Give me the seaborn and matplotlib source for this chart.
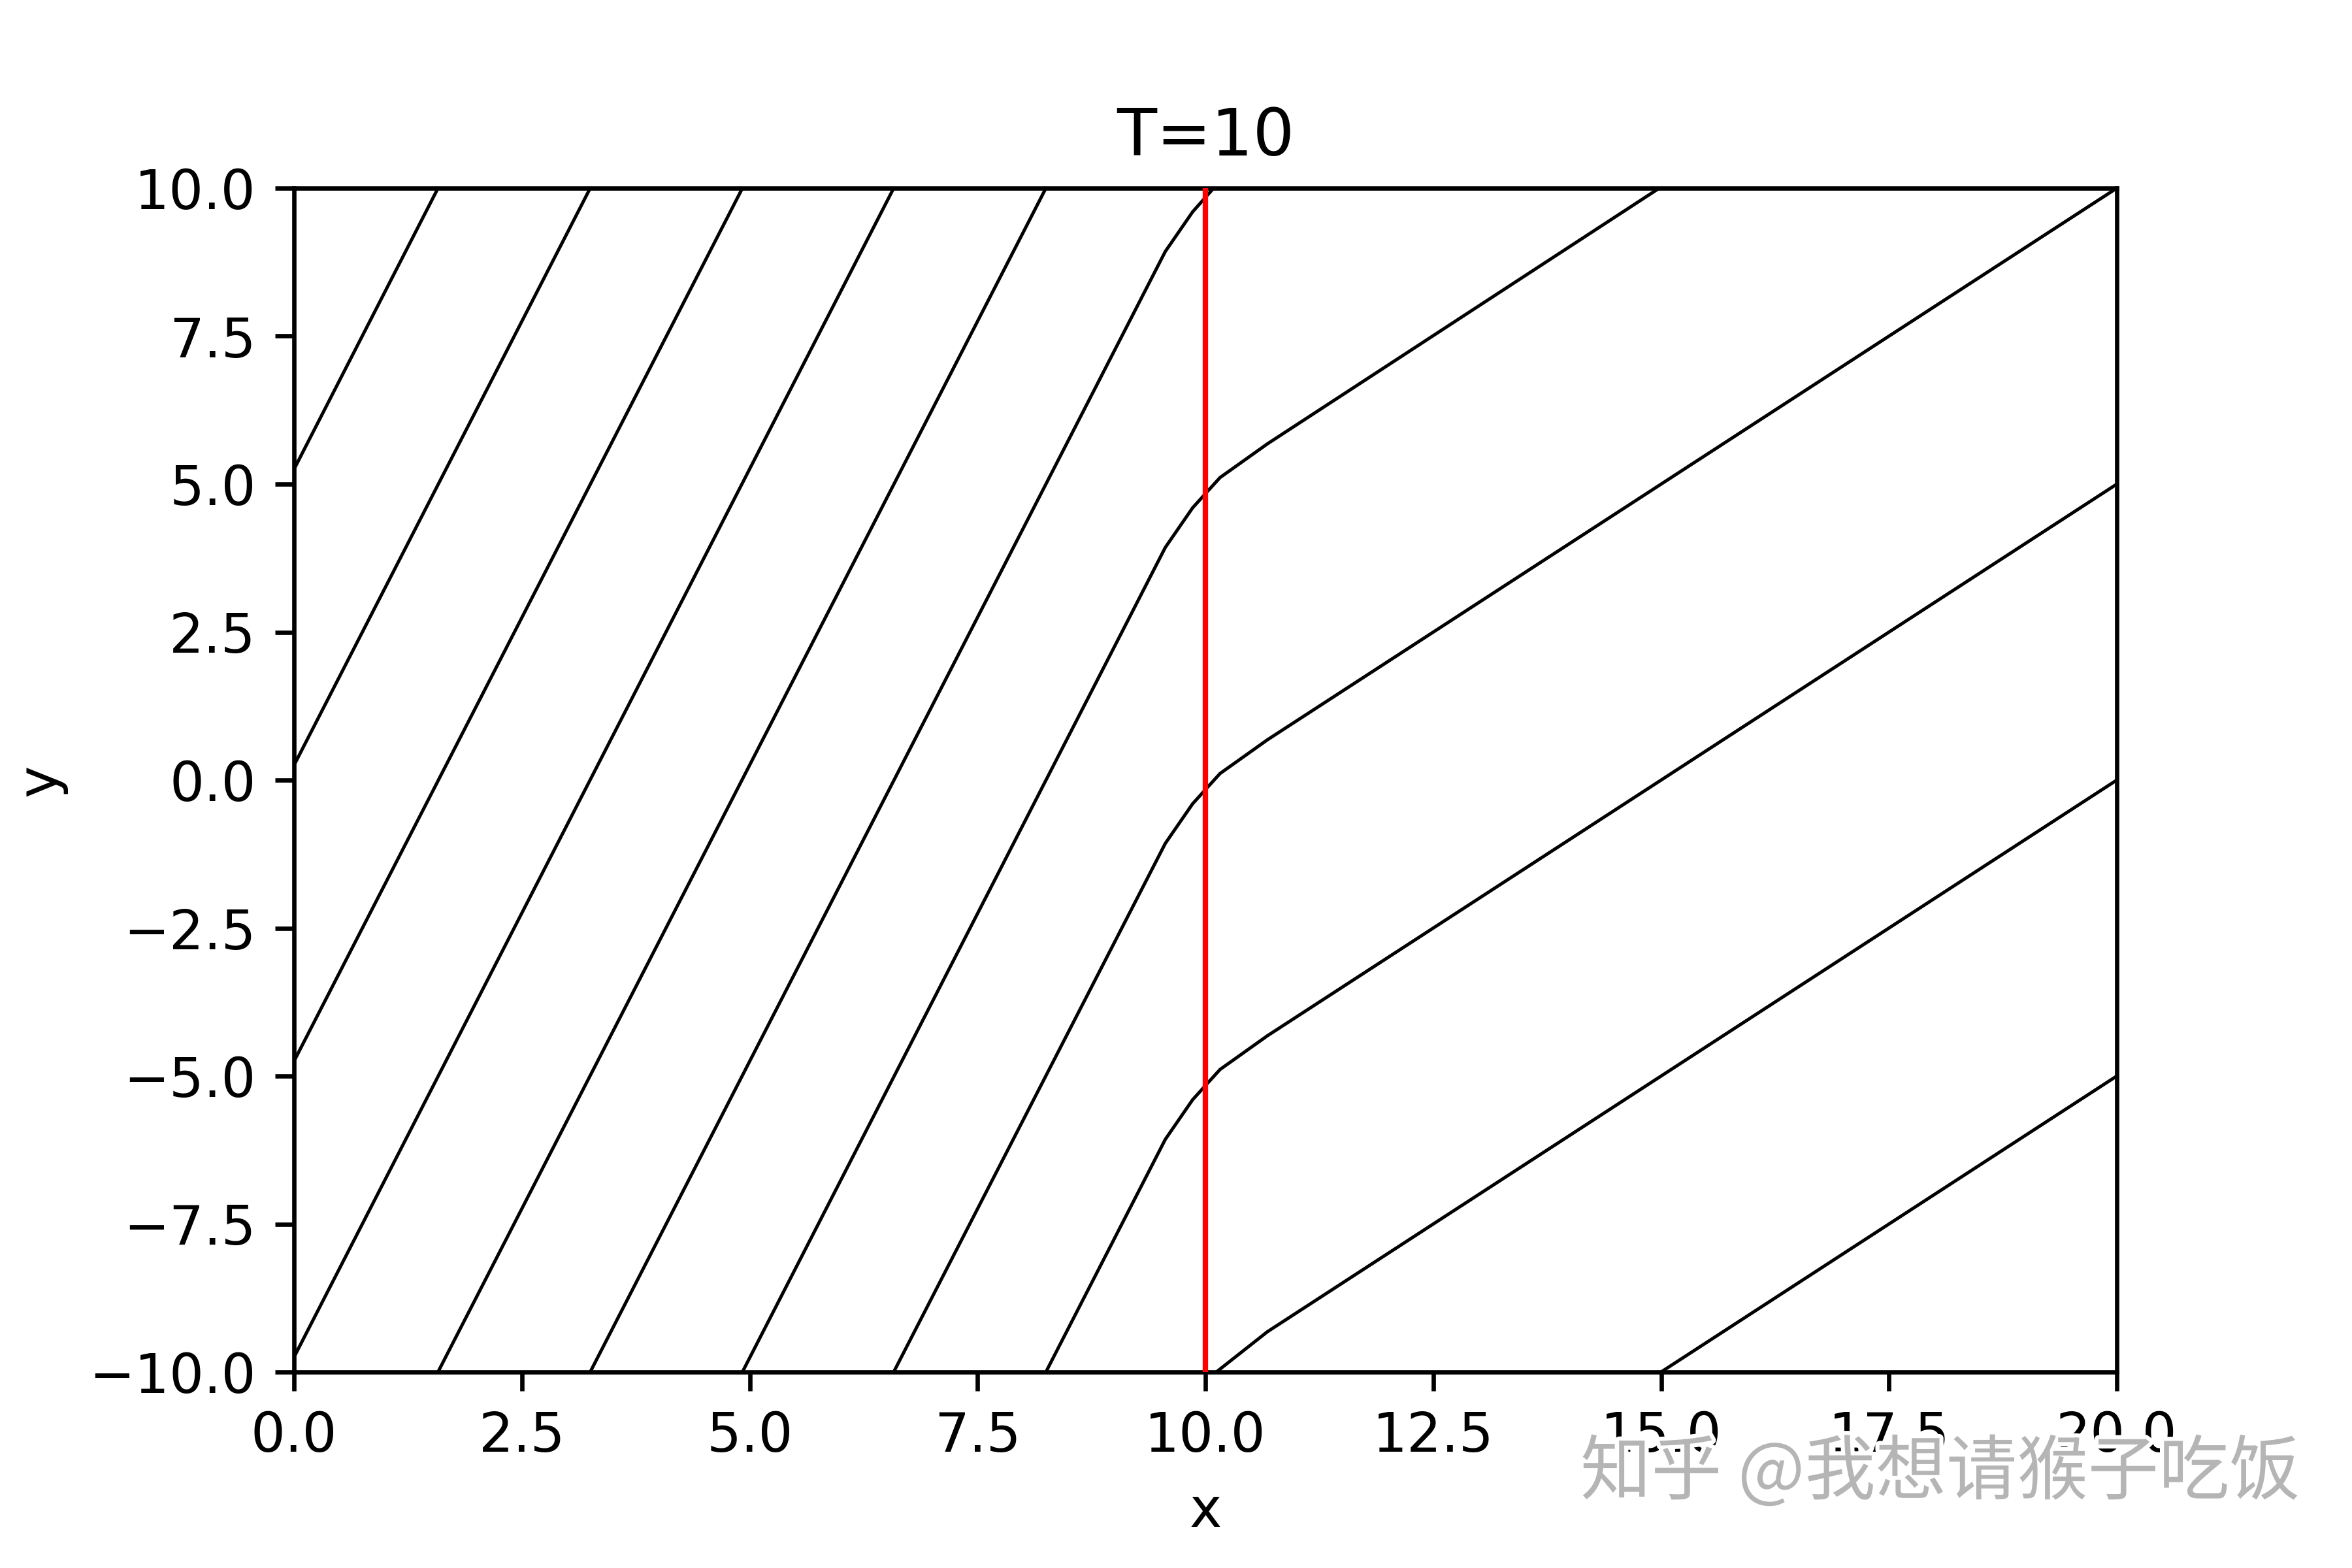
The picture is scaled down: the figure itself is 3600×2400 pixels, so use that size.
import numpy as np
import pandas as pd
import seaborn as sns
import matplotlib.pyplot as plt
import matplotlib.patheffects as pe

TITLE = "T=10"
X_INTERFACE = 10.0
WATERMARK = "知乎 @我想请猴子吃饭"

# contour lines, one polyline each (x, y)
line1_x = [0.0, 1.58]
line1_y = [5.25, 10.0]
line2_x = [0.0, 3.25]
line2_y = [0.25, 10.0]
line3_x = [0.0, 4.92]
line3_y = [-4.75, 10.0]
line4_x = [0.0, 6.58]
line4_y = [-9.75, 10.0]
line5_x = [1.58, 8.25]
line5_y = [-10.0, 10.0]
line6_x = [3.25, 9.56, 9.86, 10.09]
line6_y = [-10.0, 8.93, 9.60, 10.0]
line7_x = [4.92, 9.56, 9.86, 10.16, 10.68, 14.98]
line7_y = [-10.0, 3.93, 4.60, 5.11, 5.68, 10.0]
line8_x = [6.58, 9.56, 9.86, 10.16, 10.68, 20.0]
line8_y = [-10.0, -1.07, -0.40, 0.11, 0.68, 10.0]
line9_x = [8.25, 9.56, 9.86, 10.16, 10.68, 20.0]
line9_y = [-10.0, -6.07, -5.40, -4.89, -4.32, 5.0]
line10_x = [10.12, 10.68, 20.0]
line10_y = [-10.0, -9.32, 0.0]
line11_x = [15.0, 20.0]
line11_y = [-10.0, -5.0]


def build_frame():
    lines = [
        (line1_x, line1_y), (line2_x, line2_y), (line3_x, line3_y),
        (line4_x, line4_y), (line5_x, line5_y), (line6_x, line6_y),
        (line7_x, line7_y), (line8_x, line8_y), (line9_x, line9_y),
        (line10_x, line10_y), (line11_x, line11_y),
    ]
    rows = []
    for i, (xs, ys) in enumerate(lines):
        for x, y in zip(xs, ys):
            rows.append({"x": x, "y": y, "line": i})
    return pd.DataFrame(rows)


def main():
    df = build_frame()

    fig, ax = plt.subplots(figsize=(6, 4))
    fig.subplots_adjust(left=0.125, right=0.9, top=0.88, bottom=0.125)

    sns.lineplot(data=df, x="x", y="y", units="line", estimator=None,
                 sort=False, color="black", linewidth=0.6, legend=False, ax=ax)
    ax.axvline(X_INTERFACE, color="red", linewidth=1.0, zorder=3)

    ax.set_xlim(0, 20)
    ax.set_ylim(-10, 10)
    ax.set_xlabel("x")
    ax.set_ylabel("y")
    ax.set_title(TITLE)

    fig.text(0.825, 0.06, WATERMARK, ha="center", va="center",
             fontsize=13, color="#b5b5b5",
             family=["Noto Sans CJK SC", "DejaVu Sans"],
             path_effects=[pe.withStroke(linewidth=1.5, foreground="white")])

    fig.savefig("out.png", dpi=600)
    plt.close(fig)


if __name__ == "__main__":
    main()
